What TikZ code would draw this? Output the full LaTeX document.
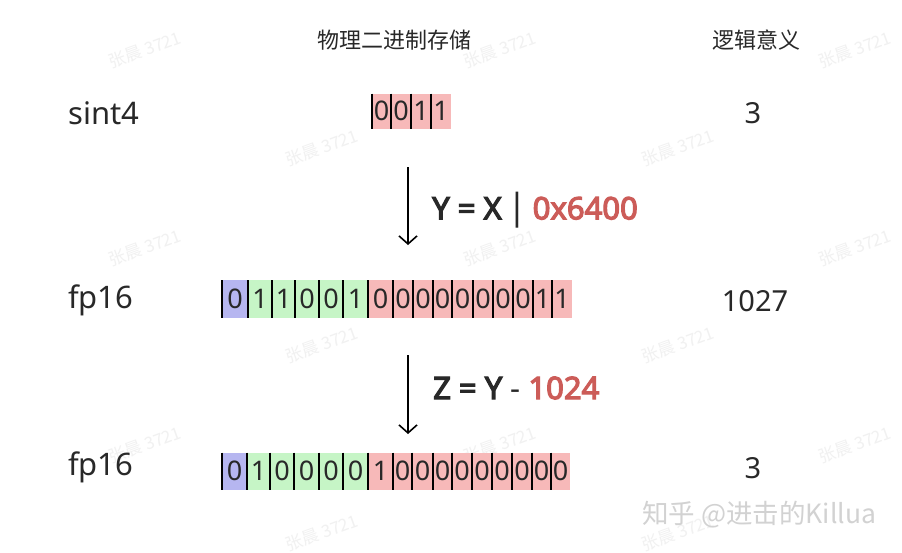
\documentclass[tikz,border=0pt]{standalone}
\usepackage{fontspec}
\setmainfont{Noto Sans}
\newfontfamily\cjk{Noto Sans CJK SC}
\newfontfamily\opb{Noto Sans}[FakeBold=3.8]
\usetikzlibrary{arrows.meta}
\definecolor{cpink}{RGB}{247,185,185}
\definecolor{cgreen}{RGB}{198,245,198}
\definecolor{cblue}{RGB}{182,182,240}
\definecolor{cred}{RGB}{204,92,88}
\definecolor{ctext}{RGB}{40,40,40}
\definecolor{cwm}{RGB}{241,241,241}
\definecolor{cwm2}{RGB}{210,210,210}
\begin{document}
\begin{tikzpicture}[x=1pt,y=-1pt,
  cell/.style={inner sep=0pt, outer sep=0pt, text=ctext, font=\fontsize{27}{29}\selectfont},
  cellline/.style={line width=1.3pt, black},
  rowlabel/.style={inner sep=0pt, anchor=west, text=ctext, font=\fontsize{31}{36}\selectfont},
  value/.style={inner sep=0pt, text=ctext, font=\fontsize{29}{34}\selectfont},
  header/.style={inner sep=0pt, text=ctext, font=\cjk\fontsize{22}{26}\selectfont},
  oplabel/.style={inner sep=0pt, anchor=west, text=ctext, font=\fontsize{31}{36}\selectfont},
  arr/.style={line width=1.6pt, black, -{Straight Barb[length=8pt,width=18pt,line width=1.6pt]}},
  wm/.style={inner sep=0pt, text=cwm, rotate=20, font=\cjk\fontsize{17}{20}\selectfont},
  ]
\useasboundingbox[fill=white] (0,0) rectangle (902,552);

% watermarks
\foreach \x/\y [count=\k] in {145/50, 500/50, 855/50, 322/148, 678/148,
  145/248, 500/248, 855/248, 322/345, 678/345, 145/445, 500/445, 855/445, 322/533, 678/533}
  \node[wm] (wm\k) at (\x,\y) {张晨 3721};

% headers
\node[header] (h1) at (394,40) {物理二进制存储};
\node[header] (h2) at (756,40) {逻辑意义};

% row labels
\node[rowlabel] (l1) at (68,113) {sint4};
\node[rowlabel] (l2) at (68,300) {fp16};
\node[rowlabel] (l3) at (68,467) {fp16};

% values
\node[value] (v1) at (753,113) {3};
\node[value] (v2) at (755,301) {1027};
\node[value] (v3) at (753,468) {3};

% row 1 cells
\foreach \l/\r/\b/\c [count=\i] in {372/391/0/cpink, 391/411/0/cpink, 411/431/1/cpink, 431/451/1/cpink}{
  \pgfmathsetmacro\w{\r-\l}
  \node[cell, fill=\c, minimum width=\w pt, minimum height=35pt] (ra\i) at ({(\l+\r)/2},111) {\b};
  \draw[cellline] (ra\i.north west) -- (ra\i.south west);
}

% row 2 cells
\foreach \l/\r/\b/\c [count=\i] in {222/248/0/cblue, 248/272/1/cgreen, 272/295/1/cgreen, 295/319/0/cgreen,
  319/343/0/cgreen, 343/368/1/cgreen, 368/393/0/cpink, 393/413/0/cpink, 413/433/0/cpink, 433/452/0/cpink,
  452/473/0/cpink, 473/493/0/cpink, 493/513/0/cpink, 513/533/0/cpink, 533/552/1/cpink, 552/572/1/cpink}{
  \pgfmathsetmacro\w{\r-\l}
  \node[cell, fill=\c, minimum width=\w pt, minimum height=38pt] (rb\i) at ({(\l+\r)/2},299) {\b};
  \draw[cellline] (rb\i.north west) -- (rb\i.south west);
}

% row 3 cells
\foreach \l/\r/\b/\c [count=\i] in {222/247/0/cblue, 247/270/1/cgreen, 270/294/0/cgreen, 294/319/0/cgreen,
  319/343/0/cgreen, 343/368/0/cgreen, 368/393/1/cpink, 393/412/0/cpink, 412/433/0/cpink, 433/452/0/cpink,
  452/472/0/cpink, 472/492/0/cpink, 492/512/0/cpink, 512/532/0/cpink, 532/551/0/cpink, 551/570/0/cpink}{
  \pgfmathsetmacro\w{\r-\l}
  \node[cell, fill=\c, minimum width=\w pt, minimum height=37pt] (rc\i) at ({(\l+\r)/2},471) {\b};
  \draw[cellline] (rc\i.north west) -- (rc\i.south west);
}

% arrows
\coordinate (a1s) at (408,167);
\coordinate (a1e) at (408,245);
\coordinate (a2s) at (408,355);
\coordinate (a2e) at (408,434);
\draw[arr] (a1s) -- (a1e);
\draw[arr] (a2s) -- (a2e);

% operation labels
\node[oplabel] (op1) at (432,210) {{\opb Y = X}\hspace{0.18em}{\fontsize{36}{36}\selectfont|}\hspace{0.18em}{\opb\color{cred}0x6400}};
\node[oplabel] (op2) at (433,388) {{\opb Z = Y} - {\opb\color{cred}1024}};

% signature
\node[inner sep=0pt, anchor=west, text=cwm2, font=\cjk\fontsize{26.5}{30}\selectfont] (sig) at (642,515) {知乎 @进击的Killua};
\end{tikzpicture}
\end{document}
